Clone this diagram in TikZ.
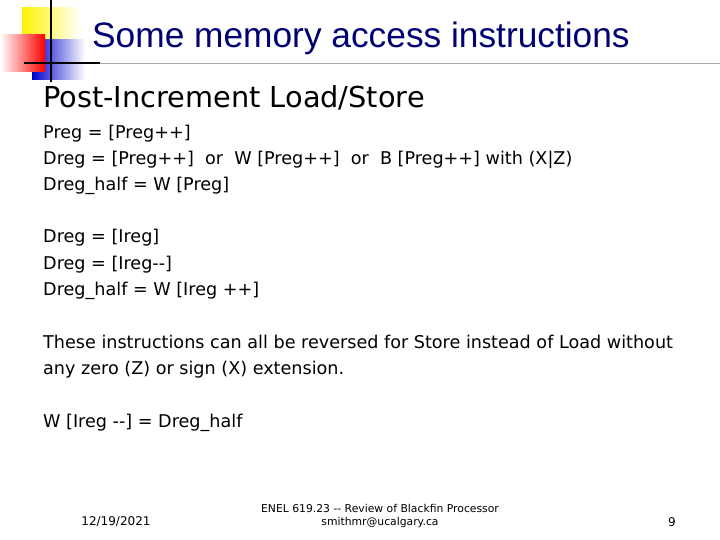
\documentclass[tikz,border=0pt]{standalone}
\usepackage{fontspec}
\setmainfont{DejaVu Sans}
\newfontfamily\titlefont{Liberation Sans}
\begin{document}
\begin{tikzpicture}[x=1pt,y=-1pt,
  body/.style={anchor=base west,inner sep=0pt,font=\fontsize{17.6}{26}\selectfont},
  foot/.style={inner sep=0pt,font=\fontsize{10.8}{13}\selectfont,align=center}]
\useasboundingbox[fill=white] (0,0) rectangle (720,540);
% logo
\shade[left color=yellow!90!orange,right color=white] (22,8) rectangle (80,62);
\shade[left color=blue!80!black,right color=white] (32,40) rectangle (85,80);
\shade[left color=white,right color=red] (0,35) rectangle (45,72);
\draw[line width=1.2pt] (51,0) -- (51,82);
\draw[line width=1.2pt] (24,63) -- (100,63);
\draw[gray!70,line width=0.6pt] (100,63) -- (720,63);
\node[anchor=base west,inner sep=0pt,font=\titlefont\fontsize{35.3}{38}\selectfont,text=blue!45!black] (t) at (92,48) {Some memory access instructions};
\node[anchor=base west,inner sep=0pt,font=\fontsize{28.8}{32}\selectfont] (h) at (43,108) {Post-Increment Load/Store};
\node[body] (l1) at (43,139) {Preg = [Preg++]};
\node[body] (l2) at (43,165) {Dreg = [Preg++]\ \ or\ \ W [Preg++]\ \ or\ \ B [Preg++] with (X|Z)};
\node[body] (l3) at (43,191) {Dreg\_half = W [Preg]};
\node[body] (l4) at (43,243) {Dreg = [Ireg]};
\node[body] (l5) at (43,269) {Dreg = [Ireg{-}{-}]};
\node[body] (l6) at (43,295) {Dreg\_half = W [Ireg ++]};
\node[body] (l7) at (43,348) {These instructions can all be reversed for Store instead of Load without};
\node[body] (l8) at (43,374) {any zero (Z) or sign (X) extension.};
\node[body] (l9) at (43,427) {W [Ireg {-}{-}] = Dreg\_half};
\node[foot,font=\fontsize{12}{14}\selectfont] (d) at (116,522) {12/19/2021};
\node[foot] (c) at (380,516) {ENEL 619.23 {-}{-} Review of Blackfin Processor\\smithmr@ucalgary.ca};
\node[foot,font=\fontsize{12}{14}\selectfont] (p) at (672,522) {9};
\end{tikzpicture}
\end{document}
